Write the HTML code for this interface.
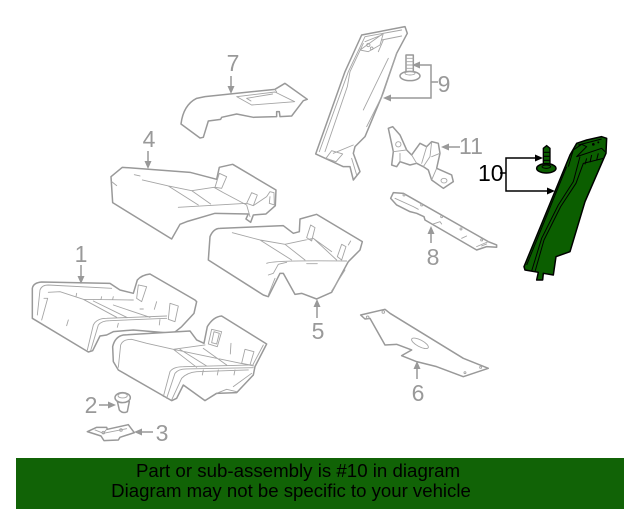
<!DOCTYPE html>
<html>
<head>
<meta charset="utf-8">
<style>
html,body{margin:0;padding:0;background:#fff;width:640px;height:512px;overflow:hidden}
svg{display:block}
text{font-family:"Liberation Sans",sans-serif}
.g{fill:#fff;stroke:#999;stroke-width:4.5;stroke-linejoin:round;stroke-linecap:round}
.t{fill:none;stroke:#a5a5a5;stroke-width:2.7;stroke-linejoin:round;stroke-linecap:round}
.lb{fill:#999;font-size:23px;text-anchor:middle}
.ar{stroke:#999;stroke-width:1.5;fill:none}
.ah{fill:#999;stroke:none}
</style>
</head>
<body>
<svg width="640" height="512" viewBox="0 0 640 512" xmlns="http://www.w3.org/2000/svg">
<rect width="640" height="512" fill="#fff"/>

<!-- seats 1, 2, 3 -->
<g transform="translate(0,230) scale(.3333)">
<path class="g" d="M97,265 L97,175 Q100,158 125,156 L330,160 L360,180 L400,190 L412,150 Q425,135 450,132 L585,210 L590,215 L582,250 L545,290 L520,310 L400,300 L340,305 L320,315 L300,318 L278,362 L265,366 Z"/>
<path class="t" d="M112,255 L120,180 Q125,165 145,165 L335,175 M125,270 L143,205 L132,205 M145,187 L180,185 L250,208 L400,210 M250,208 L350,262 M280,213 L380,262 M340,225 L450,262 M262,360 L280,285 Q290,265 320,265 L500,258 M272,362 L295,285 Q305,272 330,272 L500,265 M415,165 L440,170 L425,215 L410,205 Z M510,220 L535,228 L525,275 L505,268 Z M205,270 L200,287 M470,215 L463,238 M230,190 L228,200 M305,200 L303,208 M340,200 L338,208 M420,237 L430,237 M355,280 L352,292 M480,268 L478,285"/>
<path class="g" d="M340,395 L338,350 Q345,320 370,315 L570,303 L590,330 L612,340 L622,290 Q640,260 665,258 L800,342 L765,410 L760,435 L710,488 L650,490 L615,512 L550,465 L530,505 L515,512 L355,420 Z"/>
<path class="t" d="M355,412 L362,345 Q368,328 395,328 L440,340 L520,358 L760,408 M520,358 L590,412 M540,358 L620,408 M610,355 L680,405 M520,358 L615,345 M490,500 L510,425 Q520,410 550,410 L760,405 M500,505 L525,430 Q535,417 560,417 L760,413 M515,510 L545,445 Q560,428 590,425 L745,420 M635,298 L665,305 L652,350 L625,342 Z M642,305 L658,310 L650,342 L635,338 Z M735,358 L762,365 L750,405 L725,400 Z M693,340 L691,372 M610,420 L607,435 M655,420 L652,435 M705,420 L702,435 M650,490 L680,478 L710,485 M700,470 L755,430 M790,345 L760,402"/>
<!-- part 2 -->
<path class="g" d="M350,505 L358,540 Q368,552 382,545 L388,515 Z"/>
<ellipse class="g" cx="368" cy="503" rx="23" ry="15"/>
<ellipse class="t" cx="368" cy="497" rx="14" ry="7"/>
<!-- part 3 -->
<path class="g" d="M262,605 L290,592 L320,592 L322,598 L385,584 L403,608 L360,622 L355,630 L312,632 L303,618 Z"/>
<path class="t" d="M285,600 L310,610 L320,598 M310,610 L380,596"/>
<circle class="t" cx="310" cy="608" r="4"/>
<circle class="t" cx="363" cy="600" r="4"/>
</g>

<!-- 4 and 7 -->
<g transform="translate(90,40) scale(.3333)">
<path class="g" d="M68,488 L63,410 L97,382 L300,397 L380,418 L388,382 L428,373 L558,450 L556,497 L528,522 L490,525 L482,547 L468,537 L475,522 L375,520 L290,545 L270,553 L245,597 Z"/>
<path class="t" d="M133,404 L150,408 M157,420 L235,438 L305,452 L372,442 L400,458 L470,495 M235,438 L325,495 M305,452 L362,492 M265,502 L470,490 M375,442 L388,400 L410,410 L395,445 Z M470,490 L485,458 L502,465 L490,497 Z M490,497 L530,470 L540,455 L552,458 L553,495 L538,490 L540,470 M65,425 L80,437 M470,495 L480,530"/>
<path class="g" d="M273,252 Q280,195 320,175 L345,170 L555,148 L585,130 L652,178 L640,182 L605,228 L570,230 L568,215 L560,215 L560,230 L490,232 L440,222 L395,232 L392,238 L355,243 L340,292 L330,294 Z"/>
<path class="t" d="M440,170 L555,156 L614,185 L485,195 Z M470,175 L548,162 M470,175 L483,183 M555,148 L560,156"/>
</g>

<!-- 5 and 6 -->
<g transform="translate(200,205) scale(.3333)">
<path class="g" d="M25,165 L30,95 Q40,70 60,70 L250,62 L280,85 L298,80 L300,42 L350,28 L487,110 L480,135 L445,170 L395,262 L350,282 L305,265 L285,268 L250,205 L240,205 L205,275 L190,270 Z"/>
<path class="t" d="M97,83 L180,105 L255,118 L340,100 L410,165 M180,105 L275,165 M255,118 L315,165 M340,100 L395,140 M200,175 Q220,165 440,168 M205,210 L220,205 L235,178 L260,172 M320,176 L352,176 M205,270 L225,220 M320,98 L332,60 L345,68 L335,108 Z M412,155 L425,118 L438,125 L425,165 Z M445,120 L452,108 M395,258 L435,195"/>
<path class="g" d="M482,330 L555,313 L570,325 L790,460 L865,490 L790,515 L710,485 L650,470 L605,452 L635,435 L590,418 L555,420 L510,340 L495,342 Z"/>
<ellipse class="t" cx="660" cy="415" rx="28" ry="10" transform="rotate(28 660 415)"/>
<circle class="t" cx="503" cy="337" r="4"/><circle class="t" cx="550" cy="321" r="4"/>
<circle class="t" cx="795" cy="503" r="3"/><circle class="t" cx="842" cy="487" r="3"/>
</g>

<!-- 9, 11, 8 -->
<g transform="translate(300,20) scale(.3333)">
<path class="g" d="M47,402 L135,155 L185,45 L315,20 L322,40 L290,100 L245,230 L195,350 L165,380 L160,400 L180,455 L160,480 L150,440 L130,440 Z"/>
<path class="t" d="M58,395 L145,155 L195,50 L305,30 M75,395 L142,200 L150,155 L190,70 M180,90 L250,40 L240,75 L205,95 Z M195,65 L245,45 M78,415 L95,392 L128,402 L108,425 Z M245,60 L305,48 M190,270 L265,115 M200,320 L250,220 L290,100 M160,375 L100,400 M155,415 L170,465 M250,60 L235,95"/>
<circle class="t" cx="205" cy="75" r="5"/><circle class="t" cx="215" cy="85" r="4"/>
<path class="g" d="M318,105 L340,105 L340,158 L318,158 Z"/>
<path class="t" d="M318,115 L340,115 M318,125 L340,125 M318,135 L340,135 M318,145 L340,145"/>
<ellipse class="g" cx="330" cy="168" rx="30" ry="14"/>
<ellipse class="t" cx="330" cy="160" rx="15" ry="5"/>
<path class="g" d="M265,325 L278,320 L300,345 L320,390 L335,405 L360,370 L380,380 L395,365 L415,370 L420,400 L410,445 L455,465 L460,485 L430,505 L395,480 L385,450 L370,440 L350,430 L330,435 L300,425 L290,440 L275,435 L280,395 Z"/>
<path class="t" d="M280,395 L320,390 M300,425 L300,400 M335,405 L350,430 M380,380 L365,430 M395,365 L390,410 L370,440 M420,400 L395,410 M395,480 L410,445"/>
<circle class="t" cx="295" cy="373" r="8"/>
<ellipse class="t" cx="432" cy="482" rx="9" ry="7"/>
<path class="g" d="M272,535 L280,518 L310,520 L565,665 L590,675 L590,682 L560,680 L530,690 L375,600 L372,590 L350,580 L330,575 L290,555 Z"/>
<path class="t" d="M285,535 L340,560 L355,568 M530,680 L565,665 M400,612 L420,605 L425,612 M485,655 L500,648 M545,678 L560,672"/>
<circle class="t" cx="312" cy="525" r="3"/><circle class="t" cx="365" cy="555" r="3"/><circle class="t" cx="425" cy="590" r="3"/><circle class="t" cx="483" cy="627" r="3"/><circle class="t" cx="545" cy="660" r="3"/>
</g>

<!-- 10 green part -->
<g transform="translate(470,125) scale(.3333)">
<path fill="#0b5e00" stroke="#000" stroke-width="4.5" stroke-linejoin="round" d="M162,425 L300,90 L320,55 L350,45 L395,35 L410,40 L408,85 L345,230 L300,380 L258,395 L250,450 L220,445 L218,465 L200,465 L205,442 L165,435 Z"/>
<path fill="none" stroke="#000" stroke-width="3" stroke-linejoin="round" d="M295,125 L310,75 L335,58 L350,65 L320,95 L335,90 L395,70 L405,80 M185,438 L215,340 L265,240 L310,170 L330,95 M195,440 L222,345 L272,245 L318,175 L340,115 L400,100 M350,100 L345,118 M365,90 L360,112 M385,85 L380,105 M170,420 L290,125 M325,60 L395,42"/>
<circle cx="370" cy="58" r="4" fill="#000"/><circle cx="385" cy="52" r="3" fill="#000"/>
<path fill="#0b5e00" stroke="#000" stroke-width="4" d="M220,70 L230,62 L240,70 L240,125 L220,125 Z"/>
<path fill="none" stroke="#000" stroke-width="3.5" d="M220,82 L240,82 M220,94 L240,94 M220,106 L240,106 M220,118 L240,118"/>
<ellipse cx="229" cy="130" rx="29" ry="14" fill="#0b5e00" stroke="#000" stroke-width="4.5"/>
<ellipse cx="229" cy="125" rx="13" ry="5" fill="#0b5e00" stroke="#000" stroke-width="3"/>
</g>

<!-- leader lines -->
<path class="ar" d="M81,265V280M231,76V90M148,151V165M317,318V303M431,243V230M417,379V365M99,405H112M153,432H138M460,147H445"/>
<path class="ah" d="M81,284l-3.500,-8h7zM231,94l-3.500,-8h7zM148,169l-3.500,-8h7zM317,299l-3.500,8h7zM431,226l-3.500,8h7zM417,361l-3.500,8h7zM116,405l-8,-3.500v7zM134,432l8,-3.500v7zM441,147l8,-3.500v7z"/>
<path class="ar" d="M438,82H431M413,65H431V98H387"/>
<path class="ah" d="M412,65l8,-3.500v7zM383,98l8,-3.500v7z"/>
<path fill="none" stroke="#000" stroke-width="1.500" d="M500,173H506M539,158H506V191H550"/>
<path fill="#000" d="M543,158l-8,-3.500v7zM555,191l-8,-3.500v7z"/>

<!-- labels -->
<text class="lb" x="81" y="262">1</text>
<text class="lb" x="91" y="413">2</text>
<text class="lb" x="162" y="441">3</text>
<text class="lb" x="149" y="147">4</text>
<text class="lb" x="318" y="339">5</text>
<text class="lb" x="418" y="401">6</text>
<text class="lb" x="233" y="71">7</text>
<text class="lb" x="433" y="265">8</text>
<text class="lb" x="444" y="92">9</text>
<text class="lb" x="471" y="154">11</text>
<text x="478" y="181" fill="#000" font-size="23">10</text>

<!-- banner -->
<rect x="16" y="458" width="608" height="51" fill="#116306"/>
<text x="298" y="477" text-anchor="middle" font-size="18.700" fill="#000">Part or sub-assembly is #10 in diagram</text>
<text x="291" y="497" text-anchor="middle" font-size="18.600" fill="#000">Diagram may not be specific to your vehicle</text>
</svg>
</body>
</html>
